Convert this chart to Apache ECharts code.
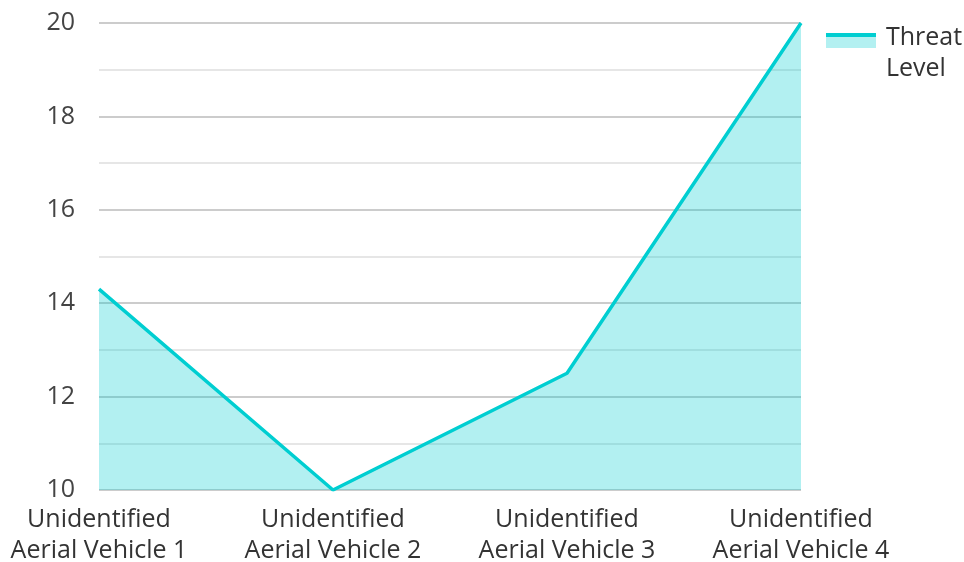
<!DOCTYPE html>
<html>
<head>
<meta charset="utf-8">
<script src="https://cdn.jsdelivr.net/npm/echarts@6/dist/echarts.min.js"></script>
<style>
  html, body { margin: 0; padding: 0; background: #fff; }
  #chart { width: 964px; height: 562px; }
</style>
</head>
<body>
<div id="chart"></div>
<script>
var categories = ['Unidentified Aerial Vehicle 1', 'Unidentified Aerial Vehicle 2', 'Unidentified Aerial Vehicle 3', 'Unidentified Aerial Vehicle 4']
var threatLevel = [14.3, 10, 12.5, 20]
var seriesName = 'Threat Level'

var chart = echarts.init(document.getElementById('chart'))
var font = '"Open Sans", "Noto Sans", sans-serif'

// legend swatch: thick line on top, light area below, rest transparent so it sits by the first text line
var clear = 'rgba(255,255,255,0)'
var swatch = new echarts.graphic.LinearGradient(0, 0, 0, 1, [
  { offset: 0, color: clear },
  { offset: 0.085, color: clear },
  { offset: 0.085, color: '#00CED1' },
  { offset: 0.16, color: '#00CED1' },
  { offset: 0.16, color: '#b3f0f1' },
  { offset: 0.394, color: '#b3f0f1' },
  { offset: 0.394, color: clear },
  { offset: 1, color: clear }
])

chart.setOption({
  animation: false,
  grid: { left: 99, right: 163, top: 23, bottom: 72, containLabel: false, outerBoundsMode: 'none' },
  legend: {
    left: 821,
    top: 17,
    orient: 'vertical',
    icon: 'rect',
    itemWidth: 50,
    itemHeight: 47,
    itemGap: 10,
    itemStyle: { color: swatch },
    lineStyle: { width: 0 },
    formatter: function (name) { return name.replace(' ', '\n') },
    textStyle: {
      fontFamily: font,
      fontSize: 25,
      color: '#333',
      lineHeight: 31,
      padding: [0, 0, 0, 5]
    },
    data: [seriesName]
  },
  xAxis: {
    type: 'category',
    data: categories,
    boundaryGap: false,
    axisLine: { show: false },
    axisTick: { show: false },
    axisLabel: {
      fontFamily: font,
      fontSize: 25,
      color: '#333',
      lineHeight: 31,
      margin: 14,
      interval: 0,
      formatter: function (v) { return v.replace('Unidentified ', 'Unidentified\n') }
    }
  },
  yAxis: {
    type: 'value',
    min: 10,
    max: 20,
    interval: 2,
    axisLine: { show: false },
    axisTick: { show: false },
    axisLabel: { fontFamily: font, fontSize: 25, color: '#444', margin: 24 },
    splitLine: { lineStyle: { color: '#cccccc', width: 2 } },
    minorTick: { show: false, splitNumber: 2 },
    minorSplitLine: { show: true, lineStyle: { color: '#e6e6e6', width: 2 } }
  },
  series: [{
    name: seriesName,
    type: 'line',
    data: threatLevel,
    showSymbol: false,
    symbol: 'none',
    lineStyle: { color: '#00CED1', width: 3.5 },
    itemStyle: { color: '#00CED1' },
    areaStyle: { color: '#00CED1', opacity: 0.3 }
  }]
})
</script>
</body>
</html>
